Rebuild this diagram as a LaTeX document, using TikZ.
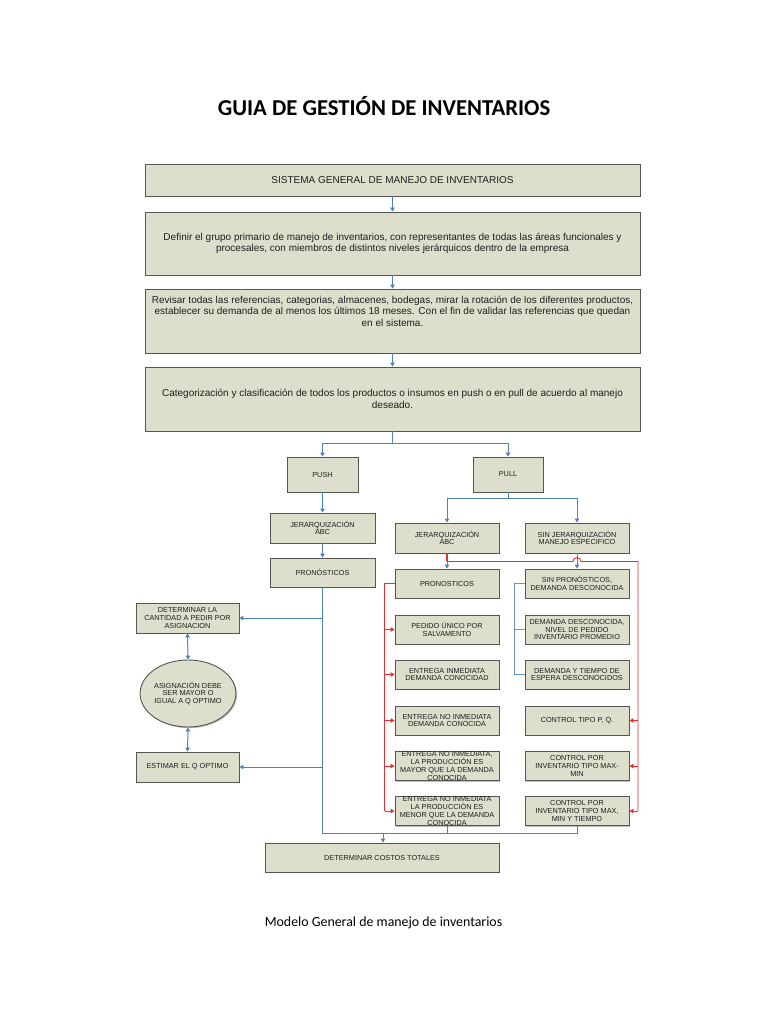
\documentclass[tikz,border=0pt]{standalone}
\usepackage{fontspec}
\setmainfont{Liberation Sans}
\newfontfamily\calib{Carlito}
\usetikzlibrary{arrows.meta,shapes.geometric,shadows,calc}
\definecolor{boxfill}{RGB}{221,223,204}
\definecolor{boxdraw}{RGB}{85,85,85}
\definecolor{conblue}{RGB}{79,129,189}
\definecolor{conred}{RGB}{228,48,48}
\definecolor{txt}{RGB}{30,30,30}
\begin{document}
\begin{tikzpicture}[x=1pt,y=-1pt,
 box/.style={draw=boxdraw, fill=boxfill, line width=0.9pt, align=center, inner sep=0.5pt, text=txt,
   drop shadow={shadow xshift=1.2pt,shadow yshift=-1.2pt,fill=black!50,opacity=0.5}},
 big/.style={box, font=\fontsize{10}{11.5}\selectfont, minimum width=495pt},
 small/.style={box, font=\fontsize{7.3}{7.7}\selectfont, minimum width=104pt, minimum height=29pt},
 bl/.style={draw=conblue, line width=1pt},
 barrow/.style={bl, -{Triangle[length=4pt,width=4.5pt]}},
 bdouble/.style={bl, {Triangle[length=4pt,width=4.5pt]}-{Triangle[length=4pt,width=4.5pt]}},
 blthin/.style={draw=conblue!85, line width=0.6pt},
 rd/.style={draw=conred, line width=0.9pt},
 rarrow/.style={rd, -{Triangle[length=4pt,width=4.5pt]}},
]
\fill[white] (0,0) rectangle (768,1024);
\useasboundingbox (0,0) rectangle (768,1024);

\node[font=\calib\bfseries\fontsize{22.7}{27}\selectfont] (title) at (384,106) {GUIA DE GESTIÓN DE INVENTARIOS};

\node[big, minimum height=32pt] (b1) at (392.5,180) {SISTEMA GENERAL DE MANEJO DE INVENTARIOS};
\node[big, minimum height=63pt] (b2) at (392.5,243.5) {Definir el grupo primario de manejo de inventarios, con representantes de todas las áreas funcionales y\\ procesales, con miembros de distintos niveles jerárquicos dentro de la empresa};
\node[big, minimum height=64pt] (b3) at (392.5,321) {};
\node[font=\fontsize{10}{11.5}\selectfont, text=txt, align=center, inner sep=0pt] (b3t) at (392.5,311) {Revisar todas las referencias, categorias, almacenes, bodegas, mirar la rotación de los diferentes productos,\\ establecer su demanda de al menos los últimos 18 meses. Con el fin de validar las referencias que quedan\\ en el sistema.};
\node[big, minimum height=64pt] (b4) at (392.5,399) {Categorización y clasificación de todos los productos o insumos en push o en pull de acuerdo al manejo\\ deseado.};

\node[small, minimum width=71pt, minimum height=35pt] (push) at (322.5,474.5) {PUSH};
\node[small, minimum width=70pt, minimum height=35pt] (pull) at (508,474.5) {PULL};
\node[small, minimum width=105pt, minimum height=30pt] (jerL) at (322.5,528) {JERARQUIZACIÓN\\ABC};
\node[small, minimum width=105pt] (pronL) at (322.5,572.5) {PRONÓSTICOS};
\node[small, minimum height=30pt] (jerR) at (447,538) {JERARQUIZACIÓN\\ABC};
\node[small, minimum height=30pt] (sinjer) at (577,538) {SIN JERARQUIZACIÓN\\MANEJO ESPECIFICO};

\node[small] (c1) at (447,583.5) {PRONOSTICOS};
\node[small] (c2) at (447,629.5) {PEDIDO ÚNICO POR\\SALVAMENTO};
\node[small] (c3) at (447,674.5) {ENTREGA INMEDIATA\\DEMANDA CONOCIDAD};
\node[small] (c4) at (447,720.5) {ENTREGA NO INMEDIATA\\DEMANDA CONOCIDA};
\node[small] (c5) at (447,766) {ENTREGA NO INMEDIATA,\\LA PRODUCCIÓN ES\\MAYOR QUE LA DEMANDA\\CONOCIDA};
\node[small] (c6) at (447,811) {ENTREGA NO INMEDIATA\\LA PRODUCCIÓN ES\\MENOR QUE LA DEMANDA\\CONOCIDA};

\node[small] (d1) at (577,583.5) {SIN PRONÓSTICOS,\\DEMANDA DESCONOCIDA};
\node[small] (d2) at (577,629.5) {DEMANDA DESCONOCIDA,\\NIVEL DE PEDIDO\\INVENTARIO PROMEDIO};
\node[small] (d3) at (577,674.5) {DEMANDA Y TIEMPO DE\\ESPERA DESCONOCIDOS};
\node[small] (d4) at (577,720.5) {CONTROL TIPO P, Q.};
\node[small] (d5) at (577,766) {CONTROL POR\\INVENTARIO TIPO MAX-\\MIN};
\node[small] (d6) at (577,811) {CONTROL POR\\INVENTARIO TIPO MAX,\\MIN Y TIEMPO};

\node[small, minimum width=103pt, minimum height=30pt] (det) at (187.5,618) {DETERMINAR LA\\CANTIDAD A PEDIR POR\\ASIGNACION};
\node[small, ellipse, minimum width=79pt, minimum height=67pt, inner sep=0pt] (ell) at (188,693.5) {ASIGNACIÓN DEBE\\SER MAYOR O\\IGUAL A Q OPTIMO};
\node[small, minimum width=103pt, minimum height=30pt] (est) at (187.5,767) {ESTIMAR EL Q OPTIMO};
\node[small, minimum width=234pt, minimum height=29pt] (costos) at (382,857.5) {DETERMINAR COSTOS TOTALES};

\node[font=\calib\fontsize{13.9}{16}\selectfont] (cap) at (383.5,923) {Modelo General de manejo de inventarios};

% connectors
\draw[barrow] (b1) -- (b2);
\draw[barrow] (b2) -- (b3);
\draw[barrow] (b3) -- (b4);
\draw[bl] (b4.south) -- ++(0,12) coordinate (s1);
\draw[barrow] (s1) -| (push.north);
\draw[barrow] (s1) -| (pull.north);
\draw[barrow] (push) -- (jerL);
\draw[barrow] (jerL) -- (pronL);
\draw[barrow] (pronL.south |- det.east) -- (det.east);
\draw[barrow] (pronL.south |- est.east) -- (est.east);
\draw[bdouble] (det.south) -- (ell.north);
\draw[bdouble] (ell.south) -- (est.north);

\draw[bl] (pull.south) -- ++(0,6) coordinate (s2);
\draw[barrow] (s2) -| (jerR.north);
\draw[barrow] (s2) -| (sinjer.north);
\draw[barrow] (sinjer.south) -- (d1.north);

\draw[rd, line width=1.6pt] (jerR.south) -- ++(0,8) coordinate (r0);
\draw[barrow] (r0) -- (c1.north);
\draw[rd] (r0) -- ($(sinjer.south)+(-4,8)$) .. controls +(0,-5) and +(0,-5) .. ($(sinjer.south)+(4,8)$) -- ++(57,0) coordinate (rR) -- (rR |- d6.east);
\draw[rarrow] (rR |- d4.east) -- (d4.east);
\draw[rarrow] (rR |- d5.east) -- (d5.east);
\draw[rarrow] (rR |- d6.east) -- (d6.east);

\draw[rd] (c1.west) -- ++(-10,0) coordinate (rL) -- (rL |- c6.west);
\draw[rarrow] (rL |- c2.west) -- (c2.west);
\draw[rarrow] (rL |- c3.west) -- (c3.west);
\draw[rarrow] (rL |- c4.west) -- (c4.west);
\draw[rarrow] (rL |- c5.west) -- (c5.west);
\draw[rarrow] (rL |- c6.west) -- (c6.west);

\draw[blthin] (d1.west) -- ++(-10,0) coordinate (bL) -- (bL |- d3.west) -- (d3.west);
\draw[blthin] (bL |- d2.west) -- (d2.west);

\coordinate (bj) at (383,833);
\draw[bl] (pronL.south) |- (bj);
\draw[bl] (c6.south) |- (bj);
\draw[bl] (d6.south) |- (bj);
\draw[barrow] (bj) -- (bj |- costos.north);
\end{tikzpicture}
\end{document}
